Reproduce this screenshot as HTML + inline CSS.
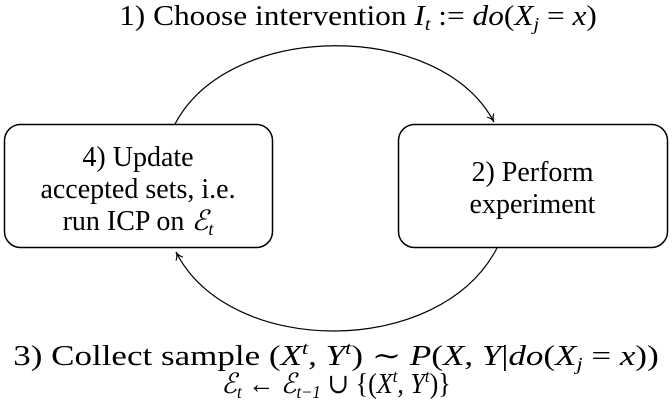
<!DOCTYPE html>
<html><head><style>
html,body{margin:0;padding:0;background:#fff;}
body{width:672px;height:411px;position:relative;overflow:hidden;font-family:"Liberation Serif","Times New Roman","DejaVu Serif",serif;color:#000;}
.t{position:absolute;white-space:nowrap;font-size:28px;line-height:30px;text-align:center;font-family:"Liberation Serif","Times New Roman","DejaVu Serif",serif;}
i{font-style:italic;}
sub,sup{font-size:18px;line-height:0;}
sub{vertical-align:-5px;}
sup{vertical-align:11px;}
</style></head><body>
<svg width="672" height="411" style="position:absolute;left:0;top:0">
<defs><marker id="a" viewBox="0 0 10 10" refX="9" refY="5" markerWidth="8" markerHeight="8" orient="auto"><path d="M1,1 Q5,5 9,5 Q5,5 1,9" fill="none" stroke="#000" stroke-width="1.2"/></marker></defs>
<rect x="4.5" y="124.5" width="268" height="123" rx="16" fill="none" stroke="#000" stroke-width="1.5"/>
<rect x="398.5" y="124.5" width="269" height="123" rx="16" fill="none" stroke="#000" stroke-width="1.5"/>
<path d="M175,124 C230,20 440,20 494,122" fill="none" stroke="#000" stroke-width="1.2" marker-end="url(#a)"/>
<path d="M497,248 C440,358 230,358 176,252" fill="none" stroke="#000" stroke-width="1.2" marker-end="url(#a)"/>
</svg>
<div class="t" style="left:22px;width:672px;top:2px;transform:scaleX(1.12)">1) Choose intervention <i>I<sub>t</sub></i> := <i>do</i>(<i>X<sub>j</sub></i> = <i>x</i>)</div>
<div class="t" style="left:4px;width:268px;top:142px;line-height:32px">4) Update<br>accepted sets, i.e.<br>run ICP on <i>ℰ<sub>t</sub></i></div>
<div class="t" style="left:398px;width:269px;top:157px;line-height:32px">2) Perform<br>experiment</div>
<div class="t" style="left:0;width:672px;top:342px;transform:scaleX(1.25)">3) Collect sample (<i>X<sup>t</sup></i>, <i>Y<sup>t</sup></i>) ∼ <i>P</i>(<i>X</i>, <i>Y</i>|<i>do</i>(<i>X<sub>j</sub></i> = <i>x</i>))</div>
<div class="t" style="left:0;width:672px;top:370px;transform:scaleX(0.93)"><i>ℰ<sub>t</sub></i> ← <i>ℰ<sub>t−1</sub></i> ∪ {(<i>X<sup>t</sup></i>, <i>Y<sup>t</sup></i>)}</div>
</body></html>
